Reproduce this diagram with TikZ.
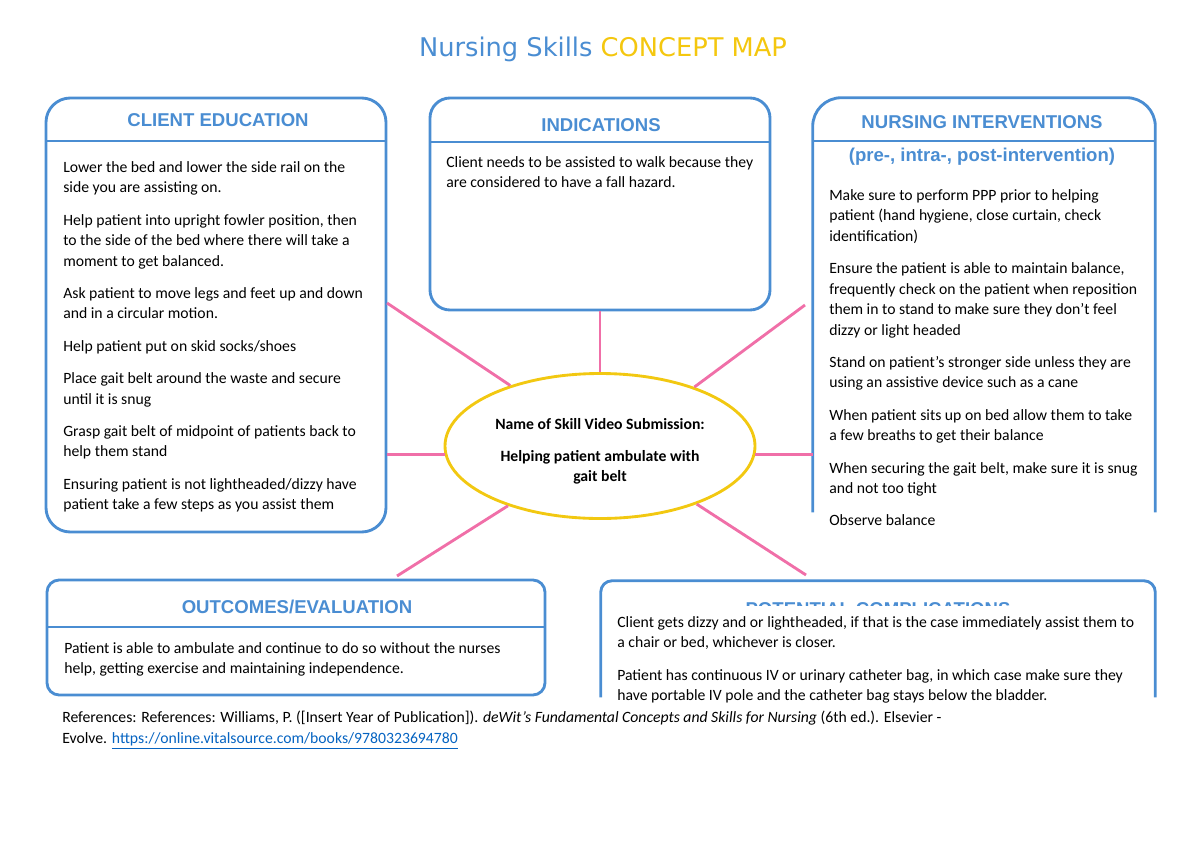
\documentclass[tikz,border=0pt]{standalone}
\usepackage{fontspec}
\setmainfont{Carlito}
\newfontfamily\headfont{Liberation Sans}
\newfontfamily\titlefont{DejaVu Sans}
\usetikzlibrary{shapes.geometric,fit}
\definecolor{mapblue}{HTML}{4A8DD2}
\definecolor{spokepink}{HTML}{F06FA8}
\definecolor{hubyellow}{HTML}{F2C811}
\definecolor{titleyellow}{HTML}{F4C70F}
\definecolor{linkblue}{HTML}{0563C1}

\begin{document}
\begin{tikzpicture}[x=0.7pt, y=-0.7pt,
  cardline/.style={draw=mapblue, line width=2pt},
  card/.style={cardline, inner sep=0pt, rounded corners=#1},
  frame/.style={inner sep=0pt},
  head/.style={font=\headfont\bfseries\fontsize{13}{15}\selectfont, text=mapblue, inner sep=0pt},
  body/.style={font=\fontsize{11}{14.35}\selectfont, align=left, anchor=north west, inner sep=0pt},
  spoke/.style={draw=spokepink, line width=2pt},
  hubshape/.style={ellipse, draw=hubyellow, line width=2pt, inner sep=0pt,
    minimum width=217pt, minimum height=101.5pt, align=center,
    font=\bfseries\fontsize{11}{14.2}\selectfont}]
                \useasboundingbox (0,0) rectangle (1200,849);

                % Title
                \node[font=\titlefont\fontsize{18}{22}\selectfont, anchor=base, inner sep=0pt] (title) at (603,56.5)
                  {\textcolor{mapblue}{Nursing Skills} \textcolor{titleyellow}{CONCEPT MAP}};

                % Boxes
                \node[card=17pt, fit={(46,98) (386,532)}] (ce) {};
                \node[card=14pt, fit={(430,98) (770,310)}] (ind) {};
                \node[card=8.5pt, fit={(47,580) (545,695)}] (out) {};
                \node[frame, fit={(813,98) (1155,512)}] (ni) {};
                \node[frame, fit={(601,581) (1155,697)}] (pc) {};
                \draw[cardline, rounded corners=20pt] (ni.south west) -- (ni.north west) -- (ni.north east) -- (ni.south east);
                \draw[cardline, rounded corners=8pt] (pc.south west) -- (pc.north west) -- (pc.north east) -- (pc.south east);

                % Header lines
                \draw[cardline] (46,141) -- (386,141);
                \draw[cardline] (430,142) -- (770,142);
                \draw[cardline] (813,141) -- (1155,141);
                \draw[cardline] (47,627) -- (545,627);

                % Headers
                \node[head] (ceHead) at (218,120) {CLIENT EDUCATION};
                \node[head] (indHead) at (601,125) {INDICATIONS};
                \node[head] (niHead) at (982,122) {NURSING INTERVENTIONS};
                \node[head] (niSub) at (982,157) {(pre-, intra-, post-intervention)};
                \node[head] (outHead) at (297,607) {OUTCOMES/EVALUATION};
                \begin{scope}
                  \clip (601,595) rectangle (1155,605);
                  \node[head] (pcHead) at (878,609) {POTENTIAL COMPLICATIONS};
                \end{scope}

                % Box texts
                \node[body] (ceText) at (63,161) {Lower the bed and lower the side rail on the\\
                  side you are assisting on.\\[8.3pt]
                  Help patient into upright fowler position, then\\
                  to the side of the bed where there will take a\\
                  moment to get balanced.\\[8.3pt]
                  Ask patient to move legs and feet up and down\\
                  and in a circular motion.\\[8.3pt]
                  Help patient put on skid socks/shoes\\[8.3pt]
                  Place gait belt around the waste and secure\\
                  until it is snug\\[8.3pt]
                  Grasp gait belt of midpoint of patients back to\\
                  help them stand\\[8.3pt]
                  Ensuring patient is not lightheaded/dizzy have\\
                  patient take a few steps as you assist them};
                \node[body] (indText) at (446,156) {Client needs to be assisted to walk because they\\
                  are considered to have a fall hazard.};
                \node[body] (niText) at (829,189) {Make sure to perform PPP prior to helping\\
                  patient (hand hygiene, close curtain, check\\
                  identification)\\[8.3pt]
                  Ensure the patient is able to maintain balance,\\
                  frequently check on the patient when reposition\\
                  them in to stand to make sure they don’t feel\\
                  dizzy or light headed\\[8.3pt]
                  Stand on patient’s stronger side unless they are\\
                  using an assistive device such as a cane\\[8.3pt]
                  When patient sits up on bed allow them to take\\
                  a few breaths to get their balance\\[8.3pt]
                  When securing the gait belt, make sure it is snug\\
                  and not too tight\\[8.3pt]
                  Observe balance};
                \node[body] (outText) at (64,642) {Patient is able to ambulate and continue to do so without the nurses\\
                  help, getting exercise and maintaining independence.};
                \node[body] (pcText) at (617,616) {Client gets dizzy and or lightheaded, if that is the case immediately assist them to\\
                  a chair or bed, whichever is closer.\\[8.3pt]
                  Patient has continuous IV or urinary catheter bag, in which case make sure they\\
                  have portable IV pole and the catheter bag stays below the bladder.};

                % References
                \node[body] (refs) at (62,711) {References: References: Williams, P. ([Insert Year of Publication]). \textit{deWit's Fundamental Concepts and Skills for Nursing} (6th ed.). Elsevier -\\
                  Evolve. \textcolor{linkblue}{\underline{https://online.vitalsource.com/books/9780323694780}}};

                % Centre
                \node[hubshape] (hub) at (600,446) {\rule{0pt}{15.4pt}Name of Skill Video Submission:\\[8.2pt]
                  Helping patient ambulate with\\ gait belt};

                % Spokes
                \coordinate (ceTip) at (387,303);
                \coordinate (niTip) at (805,305);
                \coordinate (outTip) at (397,576);
                \coordinate (pcTip) at (806,575);
                \draw[spoke] (hub.north) -- (ind.south);
                \draw[spoke] (hub.146) -- (ceTip);
                \draw[spoke] (hub.32) -- (niTip);
                \draw[spoke] (hub.183) -- (hub.183 -| ce.east);
                \draw[spoke] (hub.357) -- (hub.357 -| ni.west);
                \draw[spoke] (hub.213) -- (outTip);
                \draw[spoke] (hub.329) -- (pcTip);
            \end{tikzpicture}
\end{document}
